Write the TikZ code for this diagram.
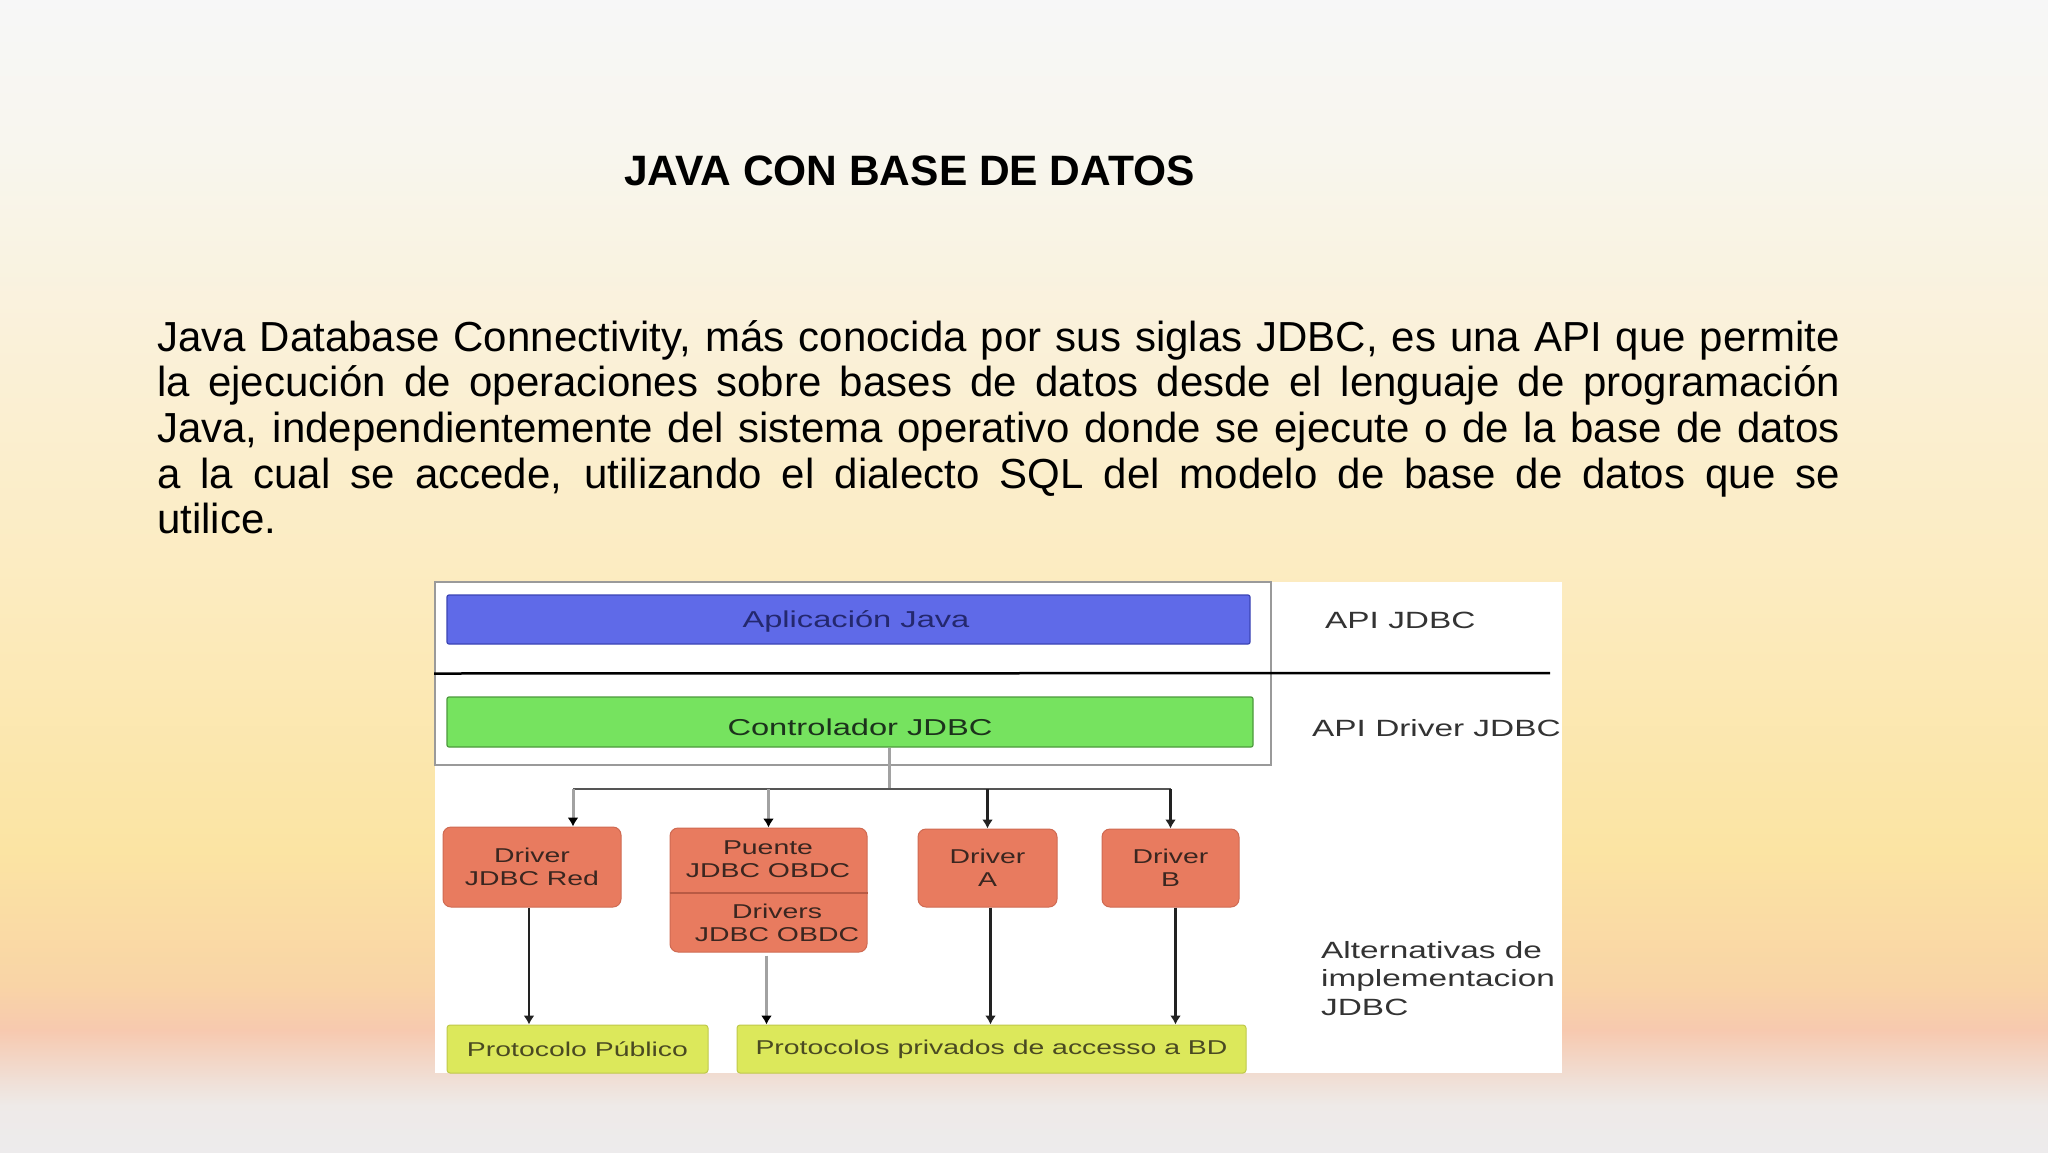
\documentclass[tikz,border=0pt]{standalone}
\usepackage{fontspec}
\setmainfont{Liberation Sans}
\newfontfamily\dgfont[FakeStretch=1.42]{Liberation Sans}
\usetikzlibrary{arrows.meta}
\definecolor{bgA}{HTML}{F7F7F7}
\definecolor{bgB}{HTML}{F8F6EE}
\definecolor{bgC}{HTML}{FAF1DA}
\definecolor{bgD}{HTML}{FCEBBE}
\definecolor{bgE}{HTML}{FBE4A3}
\definecolor{bgF}{HTML}{F9D4A6}
\definecolor{bgG}{HTML}{F7C9AF}
\definecolor{bgH}{HTML}{F0DED4}
\definecolor{bgI}{HTML}{EEEAE8}
\definecolor{bgJ}{HTML}{EDEBEC}
\definecolor{barblue}{HTML}{5F6AE8}
\definecolor{barblueb}{HTML}{3B44B5}
\definecolor{bluetext}{HTML}{24286E}
\definecolor{bargreen}{HTML}{76E35F}
\definecolor{bargreenb}{HTML}{4C9A3C}
\definecolor{greentext}{HTML}{1C321C}
\definecolor{drvfill}{HTML}{E87B5F}
\definecolor{drvline}{HTML}{CF6A52}
\definecolor{drvdiv}{HTML}{B85A44}
\definecolor{drvtext}{HTML}{3A2620}
\definecolor{protfill}{HTML}{DCE85B}
\definecolor{protline}{HTML}{BFC94A}
\definecolor{prottext}{HTML}{4A4A22}
\definecolor{lbltext}{HTML}{333333}
\definecolor{boxgray}{HTML}{9A9A9A}
\definecolor{lightarrow}{HTML}{A2A2A2}
\definecolor{darkarrow}{HTML}{222222}
\definecolor{hline}{HTML}{555555}
\begin{document}
\begin{tikzpicture}[x=1pt,y=-1pt,
  appbar/.style={rectangle, rounded corners=2pt, fill=barblue, draw=barblueb, line width=1.2pt, inner sep=0},
  ctrlbar/.style={rectangle, rounded corners=2pt, fill=bargreen, draw=bargreenb, line width=1.2pt, inner sep=0},
  drvbox/.style={rectangle, rounded corners=8pt, fill=drvfill, draw=drvline, line width=1pt, inner sep=0, align=center, text=drvtext, font=\dgfont\fontsize{20}{23}\selectfont},
  drvtxt/.style={inner sep=0, align=center, text=drvtext, font=\dgfont\fontsize{20}{23}\selectfont},
  protbox/.style={rectangle, rounded corners=3pt, fill=protfill, draw=protline, line width=1pt, inner sep=0, text=prottext, font=\dgfont\fontsize{20}{23}\selectfont},
  lbl/.style={inner sep=0, text=lbltext, font=\dgfont\fontsize{23.5}{28}\selectfont},
  dkarrow/.style={draw=darkarrow, line width=2.5pt, -{Latex[length=9pt,width=11pt]}},
  ltarrow/.style={draw=lightarrow, line width=3pt, -{Latex[length=9pt,width=11pt,color=black]}}
]
\useasboundingbox (0,0) rectangle (2048,1152);
% background
\shade[top color=bgA, bottom color=bgB] (0,0) rectangle (2048,151);
\shade[top color=bgB, bottom color=bgC] (0,150) rectangle (2048,331);
\shade[top color=bgC, bottom color=bgD] (0,330) rectangle (2048,601);
\shade[top color=bgD, bottom color=bgE] (0,600) rectangle (2048,851);
\shade[top color=bgE, bottom color=bgF] (0,850) rectangle (2048,986);
\shade[top color=bgF, bottom color=bgG] (0,985) rectangle (2048,1031);
\shade[top color=bgG, bottom color=bgH] (0,1030) rectangle (2048,1078);
\shade[top color=bgH, bottom color=bgI] (0,1077) rectangle (2048,1106);
\shade[top color=bgI, bottom color=bgJ] (0,1105) rectangle (2048,1152);

% title and paragraph
\node[anchor=base west, inner sep=0, text=black, font=\bfseries\fontsize{42.5}{48}\selectfont] (title) at (624,185) {JAVA CON BASE DE DATOS};
\node[anchor=base west, inner sep=0, text width=1683pt, align=justify, text=black,
      font=\fontsize{42}{45.7}\selectfont] (para) at (157,351)
 {\hyphenpenalty=10000\tolerance=10000\hbadness=10000%
 Java Database Connectivity, más conocida por sus siglas JDBC, es una API que permite\linebreak
 la ejecución de operaciones sobre bases de datos desde el lenguaje de programación\linebreak
 Java, independientemente del sistema operativo donde se ejecute o de la base de datos\linebreak
 a la cual se accede, utilizando el dialecto SQL del modelo de base de datos que se\linebreak
 utilice.};

% diagram panel
\fill[white] (435,582) rectangle (1562,1073);
\node[rectangle, draw=boxgray, line width=2pt, minimum width=836pt, minimum height=183pt, inner sep=0] (apibox) at (853,673.5) {};
\draw[black, line width=2.5pt] (apibox.west) -- (1550,673);

\node[appbar, minimum width=803pt, minimum height=49pt] (app) at (848.5,619.5) {};
\node[inner sep=0, anchor=base, text=bluetext, font=\dgfont\fontsize{23}{28}\selectfont] (apptxt) at (856,627.5) {Aplicación Java};
\node[ctrlbar, minimum width=806pt, minimum height=50pt] (ctrl) at (850,722) {};
\node[inner sep=0, anchor=base, text=greentext, font=\dgfont\fontsize{23}{28}\selectfont] (ctrltxt) at (860,735.5) {Controlador JDBC};

\node[lbl, anchor=base west] (apijdbc) at (1325,628.5) {API JDBC};
\node[lbl, anchor=base west] (apidrv) at (1312,736.5) {API Driver JDBC};
\node[lbl, anchor=base west] (alt1) at (1321,958) {Alternativas de};
\node[lbl, anchor=base west] (alt2) at (1321,986) {implementacion};
\node[lbl, anchor=base west] (alt3) at (1321,1015) {JDBC};

% driver boxes
\node[drvbox, minimum width=178pt, minimum height=80pt] (red) at (532,867) {Driver\\JDBC Red};
\node[drvbox, minimum width=197pt, minimum height=124pt] (puente) at (768.5,890) {};
\coordinate (pdiv) at (0,893);
\draw[drvdiv, line width=1.5pt] (puente.west |- pdiv) -- (puente.east |- pdiv);
\node[drvtxt] (ptop) at (768,859.5) {Puente\\JDBC OBDC};
\node[drvtxt] (pbot) at (777,922.5) {Drivers\\JDBC OBDC};
\node[drvbox, minimum width=139pt, minimum height=78pt] (dA) at (987.5,868) {Driver\\A};
\node[drvbox, minimum width=137pt, minimum height=78pt] (dB) at (1170.5,868) {Driver\\B};

\node[protbox, minimum width=261pt, minimum height=48pt] (pub) at (577.5,1049) {Protocolo Público};
\node[protbox, minimum width=509pt, minimum height=48pt] (priv) at (991.5,1049) {Protocolos privados de accesso a BD};

% connectors
\coordinate (jn) at (889,789);
\coordinate (hl) at (573,789);
\draw[lightarrow, line width=3pt] (ctrl.south -| jn) -- (jn);
\draw[hline, line width=2pt] (hl) -- (dB.north |- jn);
\draw[ltarrow] (hl) -- (hl |- red.north);
\draw[ltarrow] (puente.north |- jn) -- (puente.north);
\draw[dkarrow] (dA.north |- jn) -- (dA.north);
\draw[dkarrow] (dB.north |- jn) -- (dB.north);

\draw[dkarrow] ([xshift=-3pt]red.south) -- ([xshift=-3pt]red.south |- pub.north);
\draw[ltarrow] ([xshift=-2pt,yshift=-3pt]puente.south) -- ([xshift=-2pt]puente.south |- priv.north);
\draw[dkarrow] ([xshift=3pt]dA.south) -- ([xshift=3pt]dA.south |- priv.north);
\draw[dkarrow] ([xshift=5pt]dB.south) -- ([xshift=5pt]dB.south |- priv.north);
\end{tikzpicture}
\end{document}
